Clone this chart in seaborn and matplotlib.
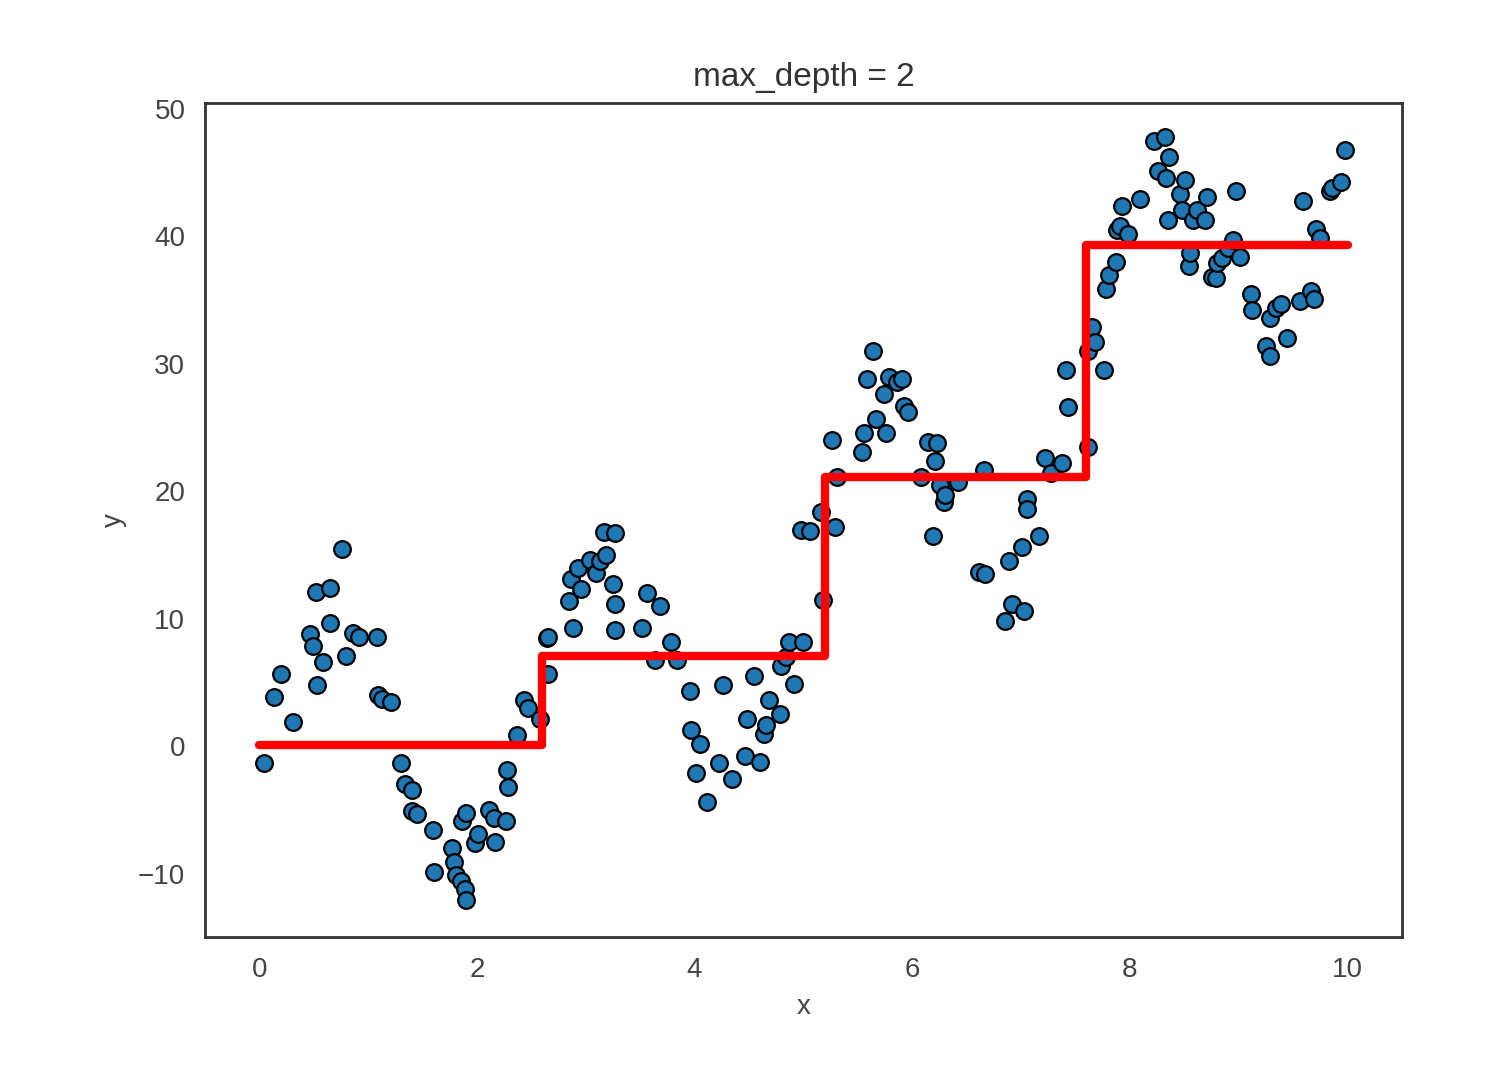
import numpy as np
import pandas as pd
import seaborn as sns
import matplotlib.pyplot as plt

# sample points
x = [0.04, 0.14, 0.2, 0.31, 0.47, 0.49, 0.52, 0.53, 0.59, 0.65, 0.65, 0.76, 0.8, 0.86, 0.92,
     1.08, 1.09, 1.13, 1.21, 1.3, 1.34, 1.4, 1.4, 1.45, 1.6, 1.61, 1.77, 1.79, 1.81, 1.85,
     1.89, 1.9, 1.86, 1.9, 1.98, 2.01, 2.11, 2.16, 2.17, 2.27, 2.28, 2.29, 2.37, 2.43, 2.47,
     2.58, 2.64, 2.65, 2.65, 2.85, 2.86, 2.88, 2.93, 2.96, 3.04, 3.09, 3.13, 3.17, 3.19, 3.25,
     3.27, 3.27, 3.27, 3.52, 3.56, 3.64, 3.68, 3.78, 3.84, 3.96, 3.97, 4.01, 4.05, 4.11, 4.22,
     4.26, 4.34, 4.46, 4.48, 4.55, 4.6, 4.64, 4.66, 4.68, 4.78, 4.79, 4.84, 4.87, 4.91, 5.0,
     4.98, 5.06, 5.16, 5.18, 5.29, 5.26, 5.31, 5.54, 5.56, 5.58, 5.64, 5.67, 5.74, 5.76, 5.79,
     5.86, 5.91, 5.92, 5.96, 6.08, 6.14, 6.19, 6.21, 6.23, 6.25, 6.29, 6.3, 6.42, 6.61, 6.67,
     6.66, 6.85, 6.89, 6.92, 7.01, 7.03, 7.05, 7.05, 7.16, 7.22, 7.27, 7.38, 7.41, 7.43, 7.61,
     7.61, 7.65, 7.68, 7.76, 7.78, 7.81, 7.87, 7.88, 7.91, 7.93, 7.98, 8.09, 8.22, 8.26, 8.32,
     8.33, 8.36, 8.35, 8.46, 8.48, 8.51, 8.54, 8.55, 8.58, 8.62, 8.69, 8.71, 8.75, 8.79, 8.8,
     8.85, 8.9, 8.95, 8.97, 9.01, 9.11, 9.12, 9.25, 9.29, 9.29, 9.34, 9.39, 9.44, 9.56, 9.59,
     9.66, 9.69, 9.71, 9.75, 9.84, 9.86, 9.94, 9.98]
y = [-1.3, 3.9, 5.7, 1.9, 8.8, 7.9, 12.1, 4.8, 6.6, 12.4, 9.7, 15.5, 7.1, 8.9, 8.6,
     8.6, 4.0, 3.7, 3.5, -1.3, -3.0, -3.4, -5.1, -5.3, -6.6, -9.9, -8.0, -9.1, -10.1, -10.6,
     -11.2, -12.1, -5.9, -5.2, -7.6, -6.9, -5.0, -5.6, -7.5, -5.9, -1.9, -3.2, 0.9, 3.6, 3.0,
     2.1, 8.5, 8.6, 5.7, 11.4, 13.1, 9.3, 14.0, 12.3, 14.6, 13.6, 14.5, 16.8, 15.0, 12.7,
     16.7, 11.2, 9.1, 9.3, 12.0, 6.8, 11.0, 8.2, 6.8, 4.3, 1.3, -2.1, 0.2, -4.4, -1.3,
     4.8, -2.6, -0.8, 2.1, 5.5, -1.2, 1.0, 1.7, 3.6, 2.5, 6.3, 7.0, 8.2, 4.9, 8.2,
     17.0, 16.9, 18.4, 11.5, 17.2, 24.0, 21.1, 23.1, 24.6, 28.8, 31.0, 25.7, 27.6, 24.6, 29.0,
     28.6, 28.8, 26.7, 26.2, 21.1, 23.9, 16.5, 22.4, 23.8, 20.5, 19.2, 19.7, 20.7, 13.7, 13.5,
     21.7, 9.8, 14.5, 11.2, 15.6, 10.6, 19.4, 18.6, 16.5, 22.6, 21.4, 22.2, 29.5, 26.6, 23.5,
     31.0, 32.9, 31.7, 29.5, 35.9, 37.0, 38.0, 40.5, 40.8, 42.4, 40.2, 42.9, 47.5, 45.1, 47.8,
     44.6, 46.2, 41.3, 43.3, 42.1, 44.4, 37.7, 38.7, 41.3, 42.1, 41.3, 43.1, 36.8, 36.7, 37.9,
     38.3, 39.1, 39.7, 43.6, 38.4, 35.5, 34.2, 31.4, 30.6, 33.6, 34.4, 34.7, 32.0, 34.9, 42.8,
     35.7, 35.1, 40.6, 39.9, 43.6, 43.8, 44.3, 46.8]

# tree prediction (max_depth = 2)
step_x = [0.0, 2.6, 5.2, 7.6, 10.0]
step_y = [0.1, 7.1, 21.1, 39.3, 39.3]

sns.set_style("white")
plt.rcParams["font.family"] = ["Liberation Sans", "DejaVu Sans"]

fig, ax = plt.subplots(figsize=(7.53, 5.4), dpi=200)
fig.subplots_adjust(left=0.136, right=0.931, top=0.905, bottom=0.132)

sns.scatterplot(x=x, y=y, s=36, color="#1f77b4", edgecolor="black", linewidth=0.8, ax=ax, zorder=2)
ax.plot(step_x, step_y, color="red", linewidth=3, drawstyle="steps-post", zorder=3)

ax.set_xlim(-0.5, 10.5)
ax.set_ylim(-15, 50.5)
ax.set_xticks([0, 2, 4, 6, 8, 10])
ax.set_yticks([-10, 0, 10, 20, 30, 40, 50])
ax.tick_params(labelsize=10, colors="#444444")
ax.set_xlabel("x", fontsize=10, color="#444444")
ax.set_ylabel("y", fontsize=10, color="#444444")
ax.set_title("max_depth = 2", fontsize=12, color="#333333")
for s in ax.spines.values():
    s.set_color("#333333")
    s.set_linewidth(1.0)

fig.savefig("out.png", dpi=200)
